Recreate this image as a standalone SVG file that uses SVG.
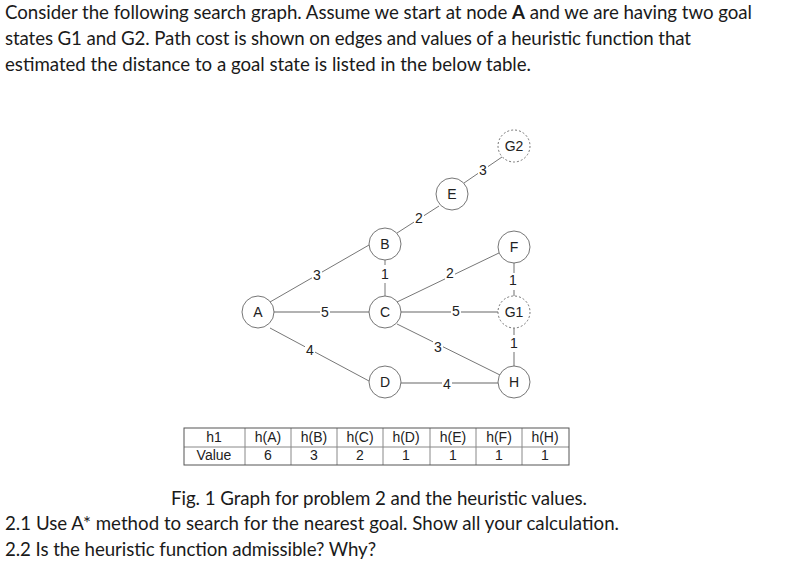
<svg xmlns="http://www.w3.org/2000/svg" width="787" height="569" viewBox="0 0 787 569">
<style>
.t{font-family:"Lato","Open Sans",sans-serif;font-size:18.7px;fill:#1a1a1a}
.n{fill:#fff;stroke:#666;stroke-width:.9}
.g{fill:#fff;stroke:#666;stroke-width:.9;stroke-dasharray:2 2}
.l{font-family:"Liberation Sans",Arial,sans-serif;font-size:14px;fill:#222;text-anchor:middle}
.e{stroke:#777;stroke-width:1;fill:none}
.h{stroke:#999;stroke-width:1.4;fill:none}
.b{fill:#fff}
.tb{stroke:#555;stroke-width:1;fill:none}
.tg{stroke:#888;stroke-width:1;fill:none}
</style>
<rect width="787" height="569" fill="#fff"/>
<text class="t" x="5" y="19" textLength="747">Consider the following search graph. Assume we start at node <tspan font-weight="700">A</tspan> and we are having two goal</text>
<text class="t" x="5" y="45" textLength="686">states G1 and G2. Path cost is shown on edges and values of a heuristic function that</text>
<text class="t" x="5" y="71" textLength="526">estimated the distance to a goal state is listed in the below table.</text>
<g id="connectors">
<path class="e" d="M270 302L369 245M397 233L439 206M464 183L502 157M385 260V296M397 302L501 252M270 328L369 381M397 324L502 376"/>
<path class="h" d="M274 312H369M401 312H498M401 383H498M514 263V296M514 328V366"/>
</g>
<g id="edge-labels">
<rect class="b" x="312" y="267" width="10" height="15"/><text class="l" x="317" y="280">3</text>
<rect class="b" x="414" y="211" width="10" height="14"/><text class="l" x="419" y="223">2</text>
<rect class="b" x="478" y="163" width="10" height="14"/><text class="l" x="483" y="175">3</text>
<rect class="b" x="380" y="265" width="10" height="18"/><text class="l" x="385" y="279">1</text>
<rect class="b" x="445" y="266" width="10" height="14"/><text class="l" x="450" y="278">2</text>
<rect class="b" x="320" y="304" width="10" height="16"/><text class="l" x="325" y="317">5</text>
<rect class="b" x="451" y="303" width="10" height="16"/><text class="l" x="456" y="316">5</text>
<rect class="b" x="305" y="343" width="10" height="14"/><text class="l" x="310" y="355">4</text>
<rect class="b" x="433" y="340" width="10" height="14"/><text class="l" x="438" y="352">3</text>
<rect class="b" x="442" y="376" width="10" height="15"/><text class="l" x="447" y="389">4</text>
<rect class="b" x="508" y="273" width="11" height="17"/><text class="l" x="513" y="285">1</text>
<rect class="b" x="509" y="335" width="11" height="17"/><text class="l" x="514" y="348">1</text>
</g>
<g id="A"><circle class="n" cx="258" cy="312" r="16"/><text class="l" x="258" y="317">A</text></g>
<g id="B"><circle class="n" cx="385" cy="244" r="16"/><text class="l" x="385" y="249">B</text></g>
<g id="C"><circle class="n" cx="385" cy="312" r="16"/><text class="l" x="385" y="317">C</text></g>
<g id="D"><circle class="n" cx="385" cy="382" r="16"/><text class="l" x="385" y="387">D</text></g>
<g id="E"><circle class="n" cx="452" cy="194" r="16"/><text class="l" x="452" y="199">E</text></g>
<g id="F"><circle class="n" cx="514" cy="247" r="16"/><text class="l" x="514" y="252">F</text></g>
<g id="G1"><circle class="g" cx="514" cy="312" r="16"/><text class="l" x="514" y="317">G1</text></g>
<g id="G2"><circle class="g" cx="514" cy="146" r="16"/><text class="l" x="514" y="151">G2</text></g>
<g id="H"><circle class="n" cx="514" cy="382" r="16"/><text class="l" x="514" y="387">H</text></g>
<g id="table">
<path class="tg" d="M184 447H569M245 428V465M291 428V465M337 428V465M383 428V465M430 428V465M476 428V465M522 428V465"/>
<rect class="tb" x="184" y="428" width="385" height="37"/>
<text class="l" x="214" y="442">h1</text><text class="l" x="268" y="442">h(A)</text><text class="l" x="314" y="442">h(B)</text><text class="l" x="360" y="442">h(C)</text><text class="l" x="406" y="442">h(D)</text><text class="l" x="453" y="442">h(E)</text><text class="l" x="499" y="442">h(F)</text><text class="l" x="545" y="442">h(H)</text>
<text class="l" x="214" y="460">Value</text><text class="l" x="268" y="460">6</text><text class="l" x="314" y="460">3</text><text class="l" x="360" y="460">2</text><text class="l" x="406" y="460">1</text><text class="l" x="453" y="460">1</text><text class="l" x="499" y="460">1</text><text class="l" x="545" y="460">1</text>
</g>
<text class="t" x="171" y="505" textLength="416">Fig. 1 Graph for problem 2 and the heuristic values.</text>
<text class="t" x="5" y="530" textLength="614">2.1 Use A* method to search for the nearest goal. Show all your calculation.</text>
<text class="t" x="5" y="556" textLength="371">2.2 Is the heuristic function admissible? Why?</text>
</svg>
